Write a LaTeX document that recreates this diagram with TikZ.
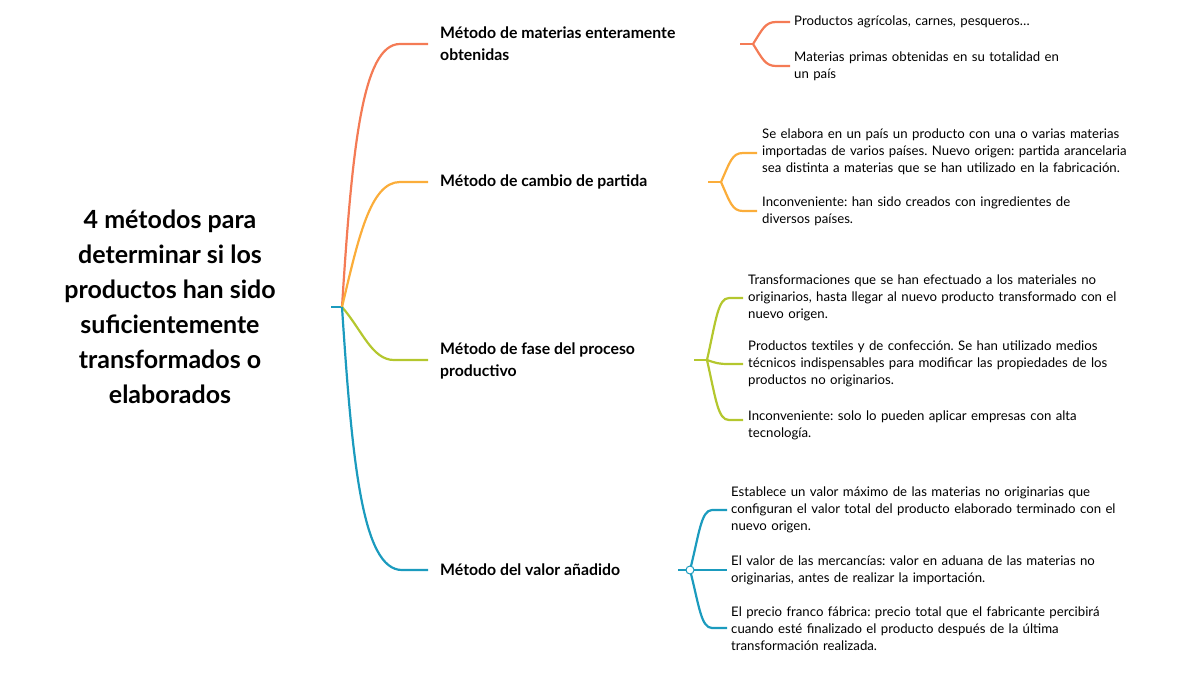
\documentclass[tikz,border=0pt]{standalone}
\usepackage{fontspec}
\setmainfont{Lato}
\frenchspacing
\definecolor{cA}{HTML}{F47B55}
\definecolor{cB}{HTML}{FBAD3A}
\definecolor{cC}{HTML}{B4C72E}
\definecolor{cD}{HTML}{1B9BBE}
\begin{document}
\begin{tikzpicture}[x=1pt,y=-1pt,
 br/.style={line width=2.2pt},
 mainlbl/.style={anchor=west,align=left,font=\fontsize{15.8}{22}\selectfont\bfseries,inner sep=0pt},
 leaf/.style={anchor=west,align=left,font=\fontsize{13.2}{17}\selectfont,inner sep=0pt,text width=#1},
 ]
\useasboundingbox (0,0) rectangle (1200,673);
% root
\node[align=center,font=\fontsize{25}{35}\selectfont\bfseries,inner sep=0pt] (root) at (170,307)
 {4 métodos para\\determinar si los\\productos han sido\\suficientemente\\transformados o\\elaborados};
\coordinate (rs) at (331,307);
\coordinate (rj) at (342,307);
\draw[cD,br] (rs) -- (rj);
% main branches
\coordinate (a1) at (400,44); \coordinate (a2) at (428,44);
\coordinate (b1) at (400,182); \coordinate (b2) at (428,182);
\coordinate (c1) at (394,360); \coordinate (c2) at (428,360);
\coordinate (d1) at (402,570); \coordinate (d2) at (428,570);
\draw[cA,br] (rj) .. controls (352,150) and (362,44) .. (a1) -- (a2);
\draw[cB,br] (rj) .. controls (358,240) and (370,182) .. (b1) -- (b2);
\draw[cC,br] (rj) .. controls (362,330) and (372,360) .. (c1) -- (c2);
\draw[cD,br] (rj) .. controls (352,460) and (362,570) .. (d1) -- (d2);
\node[mainlbl] (A) at (440,44) {Método de materias enteramente\\obtenidas};
\node[mainlbl] (B) at (440,182) {Método de cambio de partida};
\node[mainlbl] (C) at (440,361) {Método de fase del proceso\\productivo};
\node[mainlbl] (D) at (440,570) {Método del valor añadido};
% A leaves
\coordinate (as) at (740,44); \coordinate (aj) at (753,44);
\draw[cA,br] (as) -- (aj);
\draw[cA,br] (aj) .. controls (762,30) and (765,22) .. (776,22) -- (790,22);
\draw[cA,br] (aj) .. controls (762,58) and (765,66) .. (776,66) -- (790,66);
\node[leaf=320pt] (a1t) at (794,22) {Productos agrícolas, carnes, pesqueros…};
\node[leaf=320pt] (a2t) at (794,66) {Materias primas obtenidas en su totalidad en\\un país};
% B leaves
\coordinate (bs) at (708,182); \coordinate (bj) at (721,182);
\draw[cB,br] (bs) -- (bj);
\draw[cB,br] (bj) .. controls (730,162) and (732,153) .. (743,153) -- (757,153);
\draw[cB,br] (bj) .. controls (730,202) and (732,211) .. (743,211) -- (757,211);
\node[leaf=430pt] (b1t) at (762,152) {Se elabora en un país un producto con una o varias materias\\importadas de varios países. Nuevo origen: partida arancelaria\\sea distinta a materias que se han utilizado en la fabricación.};
\node[leaf=430pt] (b2t) at (762,211) {Inconveniente: han sido creados con ingredientes de\\diversos países.};
% C leaves
\coordinate (cs) at (694,360); \coordinate (cj) at (707,360);
\draw[cC,br] (cs) -- (cj);
\draw[cC,br] (cj) .. controls (716,320) and (718,298) .. (729,298) -- (743,298);
\draw[cC,br] (cj) .. controls (716,363) and (718,364) .. (729,364) -- (743,364);
\draw[cC,br] (cj) .. controls (716,400) and (718,420) .. (729,420) -- (743,420);
\node[leaf=450pt] (c1t) at (748,298) {Transformaciones que se han efectuado a los materiales no\\originarios, hasta llegar al nuevo producto transformado con el\\nuevo origen.};
\node[leaf=450pt] (c2t) at (748,364) {Productos textiles y de confección. Se han utilizado medios\\técnicos indispensables para modificar las propiedades de los\\productos no originarios.};
\node[leaf=450pt] (c3t) at (748,425) {Inconveniente: solo lo pueden aplicar empresas con alta\\tecnología.};
% D leaves
\coordinate (ds) at (678,570); \coordinate (dj) at (690,570);
\draw[cD,br] (ds) -- (dj);
\draw[cD,br] (dj) .. controls (699,535) and (701,510) .. (712,510) -- (727,510);
\draw[cD,br] (dj) -- (727,570);
\draw[cD,br] (dj) .. controls (699,605) and (701,628) .. (712,628) -- (727,628);
\draw[cD,line width=1pt,fill=white] (dj) circle (4pt);
\node[leaf=460pt] (d1t) at (731,510) {Establece un valor máximo de las materias no originarias que\\configuran el valor total del producto elaborado terminado con el\\nuevo origen.};
\node[leaf=460pt] (d2t) at (731,570) {El valor de las mercancías: valor en aduana de las materias no\\originarias, antes de realizar la importación.};
\node[leaf=460pt] (d3t) at (731,629) {El precio franco fábrica: precio total que el fabricante percibirá\\cuando esté finalizado el producto después de la última\\transformación realizada.};
\end{tikzpicture}
\end{document}
